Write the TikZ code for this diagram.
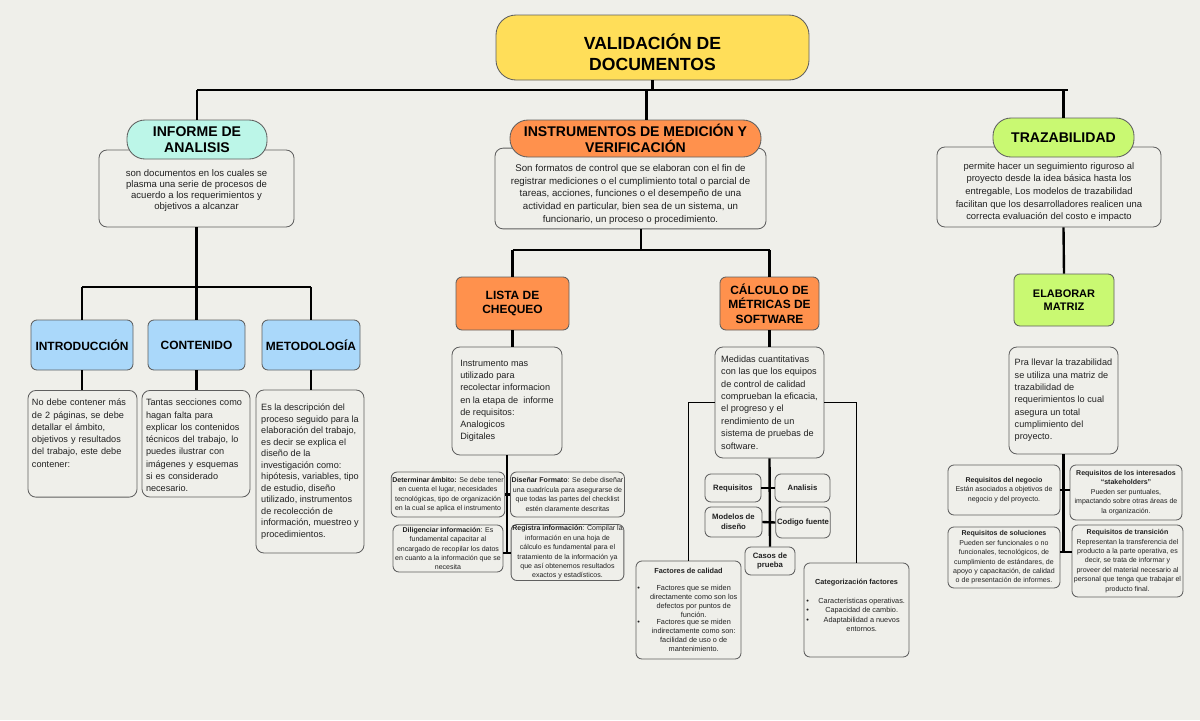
\documentclass[tikz,border=0pt]{standalone}
\usepackage{fontspec}
\setmainfont{Liberation Sans}
\usepackage{tikz}
\definecolor{valBack}{RGB}{239,239,234}
\definecolor{valYellow}{RGB}{255,222,89}
\definecolor{valCyan}{RGB}{188,246,232}
\definecolor{valOrange}{RGB}{255,145,77}
\definecolor{valLime}{RGB}{201,249,114}
\definecolor{valBlue}{RGB}{170,216,250}
\definecolor{valEdge}{RGB}{95,95,95}
\definecolor{valInk}{RGB}{33,33,33}
\usetikzlibrary{positioning,calc}

\newcommand{\valfs}[2]{\fontsize{#1}{#2}\selectfont}
\newcommand{\valdrop}[1]{\rule{0pt}{#1}}

\begin{document}
\begin{tikzpicture}[x=0.25mm, y=-0.25mm,
  link/.style={line width=1.7pt, black},
  twig/.style={line width=1.1pt, black},
  pill/.style={draw=valEdge, line width=0.6pt, rounded corners=4.5mm, align=center,
               inner sep=0pt, font=\bfseries\valfs{10}{11.8}},
  desc/.style={draw=valEdge, fill=valBack, line width=0.6pt, rounded corners=2mm,
               inner sep=1mm, text=valInk},
  head/.style={draw=valEdge, line width=0.6pt, rounded corners=1.5mm, align=center,
               inner sep=0pt, font=\bfseries\valfs{8.5}{10.5}},
  note/.style={draw=valEdge, fill=valBack, line width=0.6pt, rounded corners=1.5mm,
               inner sep=0.3mm, align=center, text=valInk, font=\valfs{5}{6.7}},
  tag/.style={note, font=\bfseries\valfs{5.5}{6.8}}
]
\useasboundingbox (0,0) rectangle (1200,720);
\fill[valBack] (0,0) rectangle (1200,720);

% title
\node[draw=valEdge, line width=0.6pt, fill=valYellow, rounded corners=5mm,
      minimum width=78.25mm, minimum height=16.25mm, align=center,
      font=\bfseries\valfs{12.5}{15}] (title) at (652.5,47.5) {\valdrop{18pt}VALIDACIÓN DE\\DOCUMENTOS};

% informe de analisis
\node[desc, align=center, minimum width=48.75mm, minimum height=19.25mm,
      font=\valfs{6.8}{7.9}] (informeTxt) at (196.5,188.5)
  {\valdrop{8pt}son documentos en los cuales se\\plasma una serie de procesos de\\acuerdo a los requerimientos y\\objetivos a alcanzar};
\node[pill, fill=valCyan, minimum width=35mm, minimum height=9.75mm] (informe) at (197,139.5) {INFORME DE\\ANALISIS};

\node[head, fill=valBlue, minimum width=25.5mm, minimum height=12.5mm] (intro) at (82,345) {INTRODUCCIÓN};
\node[head, fill=valBlue, minimum width=24.25mm, minimum height=12.5mm] (conten) at (196.5,345) {CONTENIDO};
\node[head, fill=valBlue, minimum width=24.5mm, minimum height=12.5mm] (metodo) at (311,345) {METODOLOGÍA};

\node[desc, anchor=north, text width=25.25mm, align=left, inner ysep=2.2mm, text depth=20.6mm,
      font=\valfs{6.5}{8.7}] (introTxt) at (82.5,390)
  {No debe contener más\\de 2 páginas, se debe\\detallar el ámbito,\\objetivos y resultados\\del trabajo, este debe\\contener:};
\node[desc, anchor=north, text width=25mm, align=left, inner ysep=2.2mm, text depth=20.6mm,
      font=\valfs{6.5}{8.7}] (contTxt) at (196,390)
  {Tantas secciones como\\hagan falta para\\explicar los contenidos\\técnicos del trabajo, lo\\puedes ilustrar con\\imágenes y esquemas\\si es considerado\\necesario.};
\node[desc, align=left, minimum width=27mm, minimum height=40.75mm,
      font=\valfs{6.5}{8.2}] (metodoTxt) at (310,471.5)
  {Es la descripción del\\proceso seguido para la\\elaboración del trabajo,\\es decir se explica el\\diseño de la\\investigación como:\\hipótesis, variables, tipo\\de estudio, diseño\\utilizado, instrumentos\\de recolección de\\información, muestreo y\\procedimientos.};

% instrumentos de medicion
\node[desc, align=center, minimum width=67.75mm, minimum height=19.25mm,
      font=\valfs{6.9}{9.2}] (instrumTxt) at (630.5,188.5)
  {\valdrop{13.5pt}Son formatos de control que se elaboran con el fin de\\registrar mediciones o el cumplimiento total o parcial de\\tareas, acciones, funciones o el desempeño de una\\actividad en particular, bien sea de un sistema, un\\funcionario, un proceso o procedimiento.};
\node[pill, fill=valOrange, minimum width=62.75mm, minimum height=9.25mm] (instrum) at (635.5,138.5) {INSTRUMENTOS DE MEDICIÓN Y\\VERIFICACIÓN};

\node[head, fill=valOrange, minimum width=28.25mm, minimum height=13.25mm,
      font=\bfseries\valfs{8.5}{10.6}] (lista) at (512.5,303.5) {LISTA DE\\CHEQUEO};
\node[head, fill=valOrange, minimum width=24.75mm, minimum height=13.25mm,
      font=\bfseries\valfs{8.5}{10.3}] (calc) at (769.5,303.5) {CÁLCULO DE\\MÉTRICAS DE\\SOFTWARE};

\node[desc, align=left, minimum width=27.5mm, minimum height=27mm,
      font=\valfs{6.5}{8.7}] (listaTxt) at (507,401)
  {Instrumento mas\\utilizado para\\recolectar informacion\\en la etapa de \ informe\\de requisitos:\\Analogicos\\Digitales};
\node[desc, align=left, minimum width=27.25mm, minimum height=27.75mm,
      font=\valfs{6.5}{8.8}] (calcTxt) at (769.5,402.5)
  {Medidas cuantitativas\\con las que los equipos\\de control de calidad\\comprueban la eficacia,\\el progreso y el\\rendimiento de un\\sistema de pruebas de\\software.};

\node[note, minimum width=27.5mm, minimum height=11.25mm] (determ) at (448,494.5)
  {\textbf{Determinar ámbito:} Se debe tener\\en cuenta el lugar, necesidades\\tecnológicas, tipo de organización\\en la cual se aplica el instrumento};
\node[note, minimum width=27.75mm, minimum height=11.25mm] (disen) at (567.5,494.5)
  {\textbf{Diseñar Formato}: Se debe diseñar\\una cuadrícula para asegurarse de\\que todas las partes del checklist\\estén claramente descritas};
\node[note, minimum width=27.5mm, minimum height=11.75mm] (dilig) at (448,548.5)
  {\textbf{Diligenciar información}: Es\\fundamental capacitar al\\encargado de recopilar los datos\\en cuanto a la información que se\\necesita};
\node[note, minimum width=27.75mm, minimum height=13.75mm] (regis) at (567.5,552.5)
  {\textbf{Registra información}: Compilar la\\información en una hoja de\\cálculo es fundamental para el\\tratamiento de la información ya\\que así obtenemos resultados\\exactos y estadísticos.};

\node[tag, minimum width=14mm, minimum height=7mm] (requi) at (733,488) {Requisitos};
\node[tag, minimum width=13.75mm, minimum height=7mm] (anali) at (802.5,488) {Analisis};
\node[tag, minimum width=14.25mm, minimum height=7.5mm] (modelos) at (733.5,522) {Modelos de\\diseño};
\node[tag, minimum width=13.5mm, minimum height=7.75mm] (codigo) at (803,522.5) {Codigo fuente};
\node[tag, minimum width=12.5mm, minimum height=7mm] (casos) at (770,561) {Casos de\\prueba};

\node[note, minimum width=26.25mm, minimum height=24.5mm, font=\valfs{5.2}{6.5}] (factores) at (688.5,610)
  {\textbf{Factores de calidad}\\[2mm]
   \makebox[2.6mm][l]{\textbullet}\parbox[t]{23mm}{\centering Factores que se miden\\directamente como son los\\defectos por puntos de\\función.}\\
   \makebox[2.6mm][l]{\textbullet}\parbox[t]{23mm}{\centering Factores que se miden\\indirectamente como son:\\facilidad de uso o de\\mantenimiento.}};
\node[note, minimum width=26.25mm, minimum height=23.5mm, font=\valfs{5.2}{6.5}] (categ) at (856.5,610)
  {\textbf{Categorización factores}\\[2.5mm]
   \makebox[2.6mm][l]{\textbullet}\parbox[t]{22.5mm}{\centering Características operativas.}\\
   \makebox[2.6mm][l]{\textbullet}\parbox[t]{22.5mm}{\centering Capacidad de cambio.}\\
   \makebox[2.6mm][l]{\textbullet}\parbox[t]{22.5mm}{\centering Adaptabilidad a nuevos\\entornos.}\\[2mm]};

% trazabilidad
\node[desc, align=center, minimum width=56mm, minimum height=20mm,
      font=\valfs{6.7}{9}] (trazaTxt) at (1049,187)
  {\valdrop{12pt}permite hacer un seguimiento riguroso al\\proyecto desde la idea básica hasta los\\entregable, Los modelos de trazabilidad\\facilitan que los desarrolladores realicen una\\correcta evaluación del costo e impacto};
\node[pill, fill=valLime, minimum width=35.25mm, minimum height=9.75mm] (traza) at (1063.5,137.5) {TRAZABILIDAD};

\node[head, fill=valLime, minimum width=25mm, minimum height=13mm,
      font=\bfseries\valfs{7.8}{9.5}] (matriz) at (1064,300) {ELABORAR\\MATRIZ};
\node[desc, align=left, minimum width=27.25mm, minimum height=26.75mm,
      font=\valfs{6.5}{8.8}] (matrizTxt) at (1063.5,400.5)
  {Pra llevar la trazabilidad\\se utiliza una matriz de\\trazabilidad de\\requerimientos lo cual\\asegura un total\\cumplimiento del\\proyecto.};

\node[note, minimum width=28mm, minimum height=12.5mm] (negocio) at (1004,490)
  {\textbf{Requisitos del negocio}\\Están asociados a objetivos de\\negocio y del proyecto.};
\node[note, minimum width=28mm, minimum height=13.75mm] (interes) at (1126,492.5)
  {\textbf{Requisitos de los interesados}\\\textbf{“stakeholders”}\\Pueden ser puntuales,\\impactando sobre otras áreas de\\la organización.};
\node[note, minimum width=28mm, minimum height=15.25mm] (solucion) at (1004,557.5)
  {\textbf{Requisitos de soluciones}\\Pueden ser funcionales o no\\funcionales, tecnológicos, de\\cumplimiento de estándares, de\\apoyo y capacitación, de calidad\\o de presentación de informes.};
\node[note, minimum width=27.75mm, minimum height=18mm] (transic) at (1127.5,561)
  {\textbf{Requisitos de transición}\\Representan la transferencia del\\producto a la parte operativa, es\\decir, se trata de informar y\\proveer del material necesario al\\personal que tenga que trabajar el\\producto final.};

% connectors
\coordinate (topBarL) at (197,90);
\coordinate (topBarR) at (1068,90);
\coordinate (insTop) at ([xshift=2.75mm]instrum.north);
\draw[link] (topBarL) -- (topBarR);
\draw[link] (title.south) -- (title.south |- topBarL);
\draw[link] (topBarL) -- (informe.north);
\draw[link] (insTop |- topBarL) -- (insTop);
\draw[link] (traza.north |- topBarL) -- (traza.north);

\coordinate (infBar) at (196.5,287);
\draw[link] (informeTxt.south) -- (infBar);
\draw[link] (intro.north |- infBar) -- (metodo.north |- infBar);
\draw[link] (intro.north |- infBar) -- (intro.north);
\draw[link] (infBar) -- (conten.north);
\draw[link] (metodo.north |- infBar) -- (metodo.north);
\draw[link] (intro.south) -- (intro.south |- introTxt.north);
\draw[link] (conten.south) -- (conten.south |- contTxt.north);
\draw[link] (metodo.south) -- (metodo.south |- metodoTxt.north);

\coordinate (insBar) at (641,250);
\draw[link] (instrumTxt.south -| insBar) -- (insBar);
\draw[link] (lista.north |- insBar) -- (calc.north |- insBar);
\draw[link] (lista.north |- insBar) -- (lista.north);
\draw[link] (calc.north |- insBar) -- (calc.north);
\draw[link] (lista.south) -- (lista.south |- listaTxt.north);
\draw[link] (calc.south) -- (calcTxt.north);

\coordinate (listaEnd) at (507,553);
\draw[link] (listaTxt.south) -- (listaEnd);
\draw[link] (determ.east) -- (disen.west);
\draw[link] (dilig.east |- listaEnd) -- (regis.west |- listaEnd);

\draw[link] (calcTxt.south) -- (casos.north);
\draw[link] (requi.east) -- (anali.west);
\draw[link] (modelos.east) -- (codigo.west);
\draw[twig] (calcTxt.west) -| (factores.north);
\draw[twig] (calcTxt.east) -| (categ.north);

\draw[link] (traza.south |- trazaTxt.south) -- (matriz.north);
\coordinate (reqEnd) at (1063.5,552);
\draw[link] (matrizTxt.south) -- (reqEnd);
\draw[link] (negocio.east) -- (negocio.east -| interes.west);
\draw[link] (solucion.east |- reqEnd) -- (transic.west |- reqEnd);
\end{tikzpicture}
\end{document}
